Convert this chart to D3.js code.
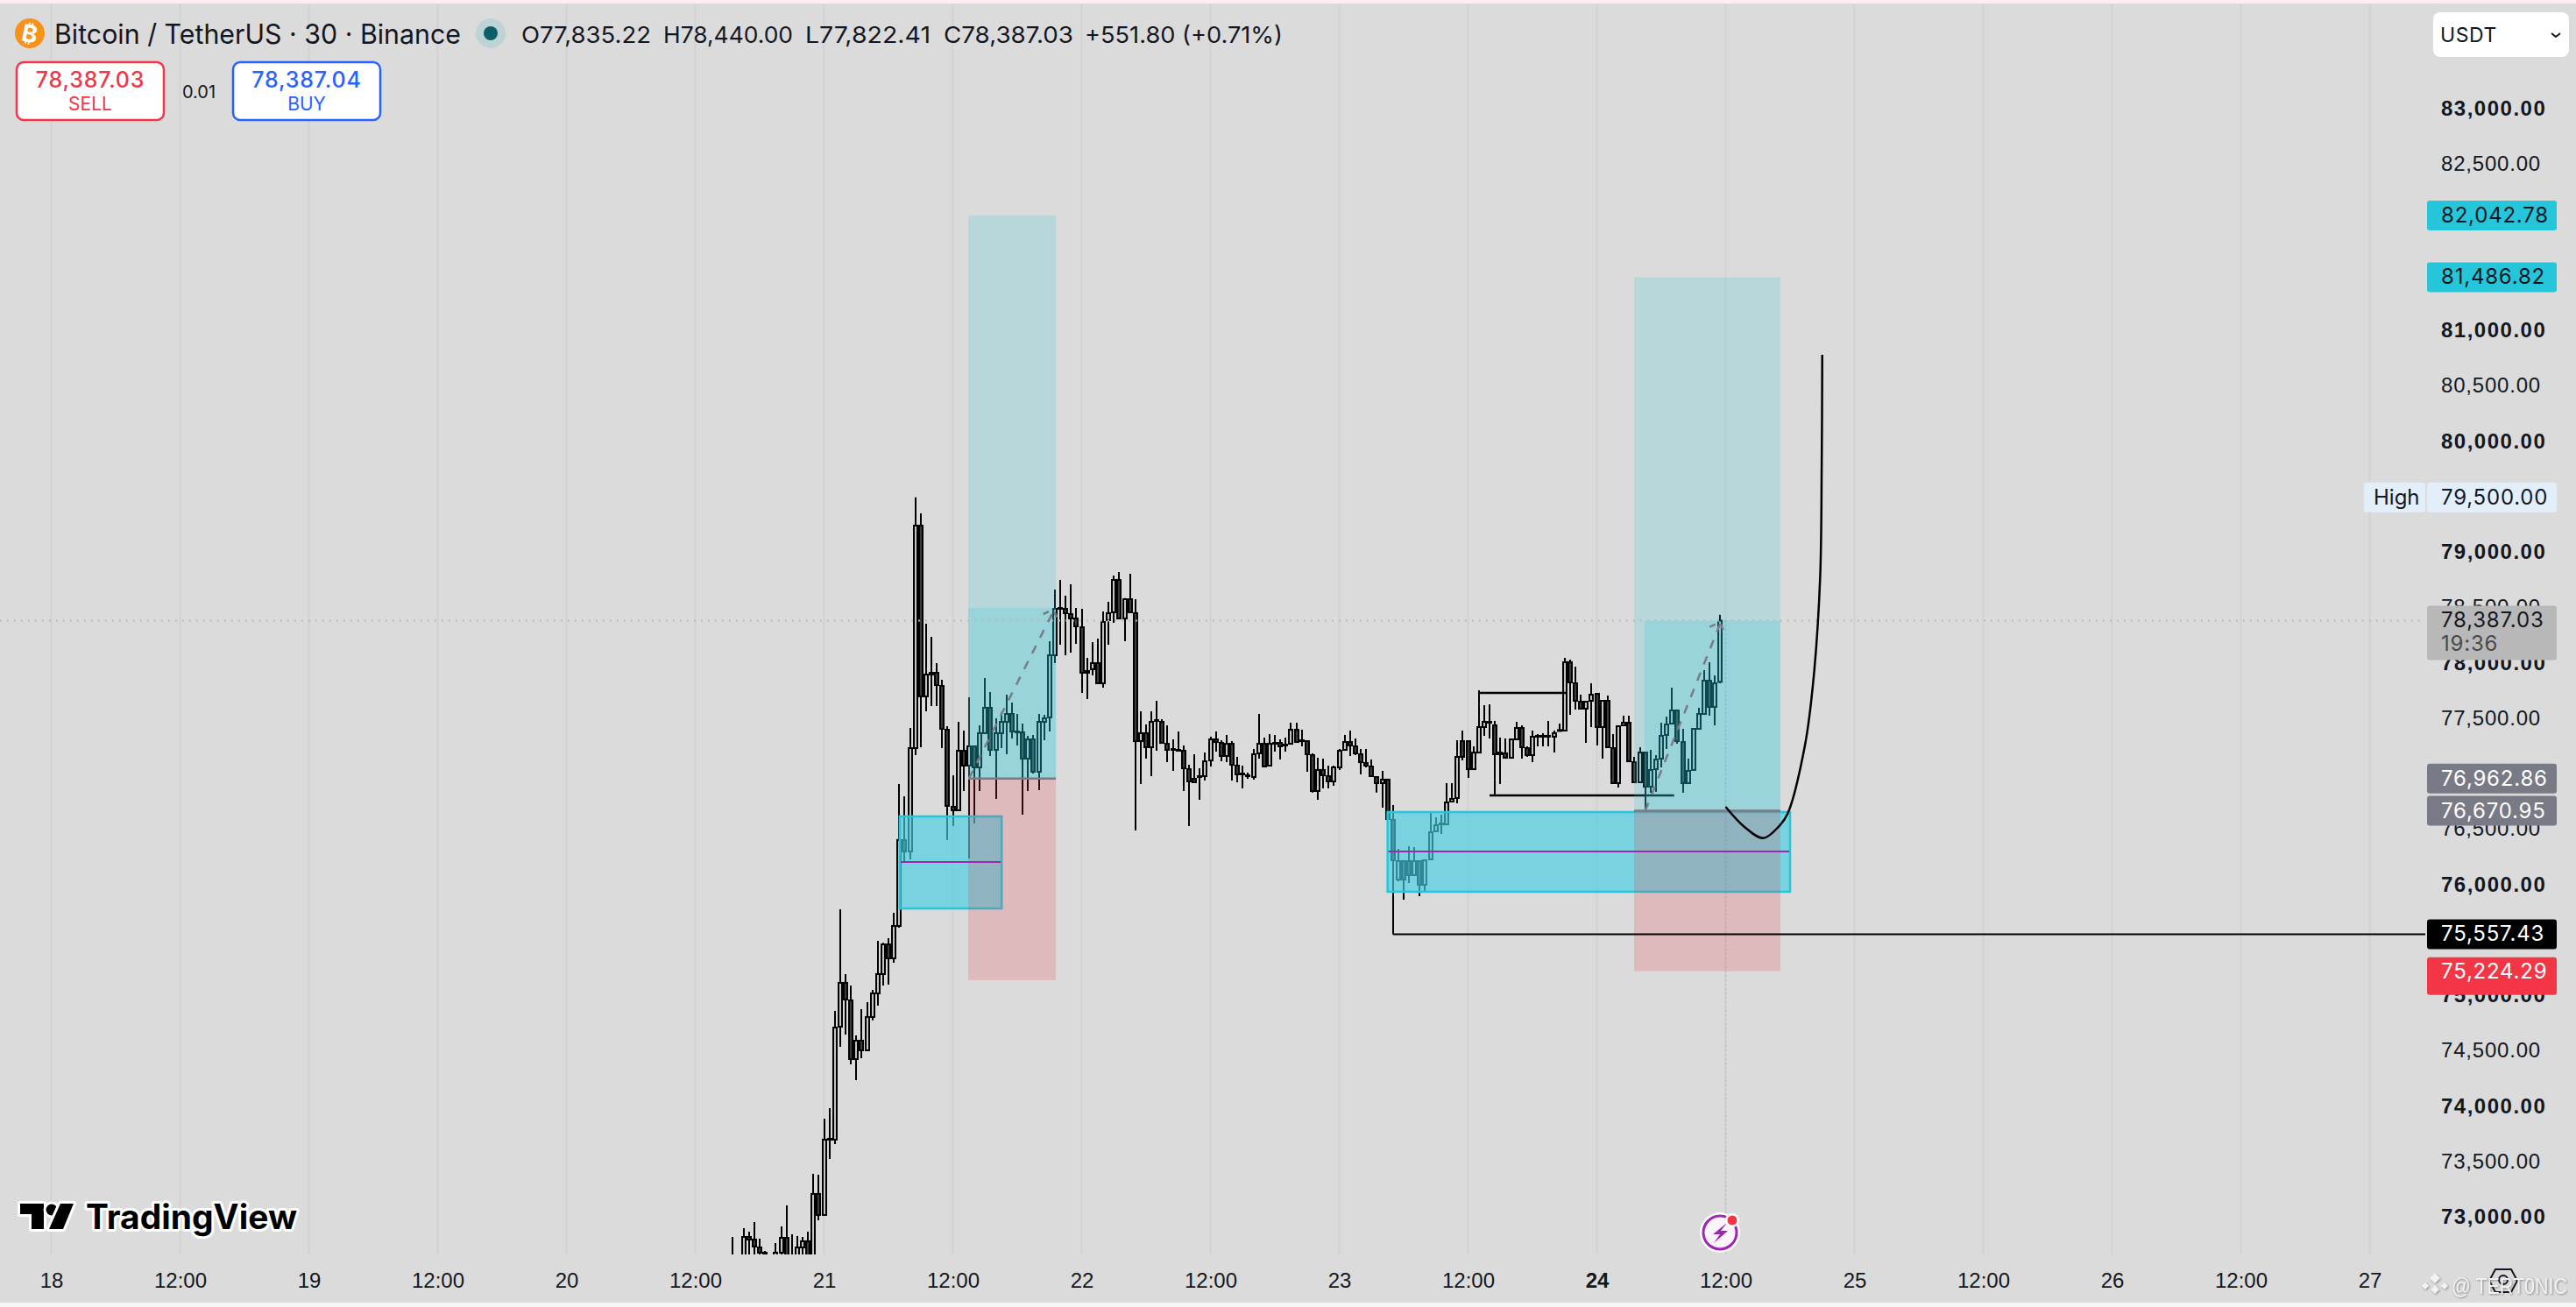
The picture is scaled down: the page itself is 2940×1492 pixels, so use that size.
<!DOCTYPE html>
<html>
<head>
<meta charset="utf-8">
<script src="https://cdn.jsdelivr.net/npm/d3@7"></script>
<style>
  html, body { margin: 0; padding: 0; background: #dbdbdb; }
  svg { display: block; font-family: Inter, "Noto Sans", sans-serif; }
  .axis .domain { display: none; }
  .price-axis text { font-size: 24px; fill: #131722; letter-spacing: 0.8px; }
  .price-axis text.major { font-weight: 800; letter-spacing: 1.5px; }
  .time-axis text { font-size: 24px; fill: #131722; }
  .time-axis text.day-now { font-weight: 700; }
</style>
</head>
<body>
<div id="chart"></div>
<script>
const WIDTH = 2940;
const HEIGHT = 1492;
const PANE_RIGHT = 2768;
const PANE_BOTTOM = 1432;

// hours counted from day 18 00:00, one candle every half hour
const FIRST_CANDLE_HOUR = 63.5;

const opens = [
  72600,72600,72620,72826,72802,72731,72684,72640,72620,72684,
  72818,72620,72640,72731,72787,72640,73214,73024,73704,73704,
  74723,75119,74961,74431,74597,74510,74811,75024,75198,75466,
  75340,75632,76408,76304,77237,79245,77704,77901,77917,77798,
  77403,76708,76676,77213,77079,77253,77063,77372,77601,77221,
  77372,77474,77545,77387,77379,77142,77316,77024,77474,77514,
  78075,78494,78494,78447,78407,78328,77917,77949,78004,77822,
  78392,78463,78755,78407,78581,78455,77300,77372,77245,77490,
  77474,77276,77229,77221,77213,77047,76960,76984,76984,77126,
  77316,77284,77166,77276,77079,77000,76992,76976,77190,77276,
  77079,77276,77284,77269,77276,77403,77308,77300,77174,76850,
  77040,76984,76937,77063,77221,77292,77253,77182,77103,77071,
  76976,76921,76953,76589,76051,76217,76217,76091,76217,76004,
  76233,76486,76549,76549,76755,76787,77300,77300,77047,77197,
  77427,77474,77443,77182,77190,77150,77316,77419,77237,77174,
  77340,77348,77348,77340,77395,77395,78013,77822,77656,77593,
  77664,77727,77427,77664,77237,76921,77443,77466,77110,76929,
  77197,76889,77047,77142,77356,77458,77577,77292,76921,77040,
  77411,77545,77846,77609,77835.22
];
const highs = [
  72826,72650,72905,72874,72961,72810,72700,72650,72771,72921,
  73111,72850,72834,72826,72874,73396,73388,73894,73989,74866,
  75783,75198,75095,74644,74882,74945,75056,75498,75480,75522,
  75751,76914,76803,77419,79500,79356,78360,78241,78003,77854,
  77435,76992,77474,77395,77696,77253,77443,77870,77743,77506,
  77561,77719,77648,77545,77458,77348,77356,77545,77537,78202,
  78668,78755,78613,78716,78502,78494,78051,78194,78226,78471,
  78557,78795,78826,78590,78810,78581,77569,77451,77569,77664,
  77498,77443,77316,77387,77261,77087,77182,77055,77197,77340,
  77387,77308,77356,77300,77158,77079,77015,77229,77545,77332,
  77364,77356,77316,77332,77466,77466,77403,77308,77190,77150,
  77142,77079,77079,77229,77356,77395,77324,77229,77229,77134,
  76976,77032,76953,76724,76328,76217,76352,76344,76217,76225,
  76652,76613,76637,76921,76921,77308,77395,77300,77253,77759,
  77624,77632,77482,77332,77324,77324,77474,77443,77253,77395,
  77364,77372,77482,77395,77458,78051,78036,77972,77719,77656,
  77822,77735,77664,77711,77364,77443,77530,77530,77158,77245,
  77197,77221,77174,77466,77521,77782,77577,77411,77142,77411,
  77601,77941,78012,77893,78440
];
const lows = [
  72500,72500,72550,72600,72600,72668,72640,72550,72580,72620,
  72580,72580,72600,72668,72600,72600,72977,73020,73530,73665,
  74542,74652,74383,74241,74439,74510,74780,74914,75095,75103,
  75300,75617,76202,76233,77174,77245,77569,77617,77617,77237,
  76408,76534,76676,76850,76241,76558,76850,77372,77166,76779,
  77237,77182,77324,77261,76637,76850,77008,76858,77308,77387,
  78003,78170,78075,78099,78178,77735,77680,77893,77822,77782,
  78170,78368,78407,78202,78463,76494,76914,77142,76984,77213,
  77284,77110,77032,77213,76850,76534,76929,76771,76945,77071,
  77205,77118,77110,76945,76929,76874,76960,76953,77142,77063,
  77071,77205,77134,77205,77276,77292,77253,77024,76835,76771,
  76874,76874,76897,77040,77221,77166,77174,77000,77063,76976,
  76835,76700,76597,75557,76035,75870,76020,76091,75901,75949,
  76233,76478,76463,76549,76755,76739,77126,76969,77047,77197,
  77348,77324,76803,76914,77150,77150,77316,77142,77158,77110,
  77253,77253,77253,77197,77395,77395,77538,77585,77585,77284,
  77427,77261,77142,77245,76914,76882,77443,77118,76929,76929,
  76670.95,76834,76842,77063,77229,77458,77276,76834,76921,77040,
  77411,77545,77530,77443,77822.41
];
const closes = [
  72600,72580,72826,72802,72739,72684,72668,72620,72684,72818,
  72620,72640,72731,72787,72640,73214,73024,73704,73712,74715,
  75119,74969,74431,74597,74510,74811,75024,75198,75466,75340,
  75632,76408,76304,77237,79245,77704,77901,77917,77806,77411,
  76716,76676,77213,77079,77253,77063,77372,77601,77221,77372,
  77474,77545,77387,77379,77142,77316,77024,77474,77506,78075,
  78494,78502,78455,78407,78336,77917,77933,78004,77822,78376,
  78455,78755,78407,78581,78463,77300,77372,77245,77474,77482,
  77284,77221,77221,77217,77055,76937,76929,76984,77118,77316,
  77292,77166,77276,77087,77000,77008,76992,77182,77276,77071,
  77276,77284,77253,77261,77403,77292,77300,77182,76850,77040,
  76992,76937,77063,77213,77292,77261,77190,77110,77079,76984,
  76921,76953,76597,76225,76217,76051,76091,76217,76004,76225,
  76478,76541,76557,76747,76779,77158,77158,77047,77197,77427,
  77474,77466,77182,77197,77150,77316,77419,77245,77174,77340,
  77348,77348,77348,77372,77400,78013,77830,77664,77593,77656,
  77719,77427,77664,77245,76921,77435,77466,77118,76929,77197,
  76889,77040,77134,77348,77450,77577,77300,76921,77032,77411,
  77545,77846,77609,77822,78387.03
];

// axis labels
const priceTicks = [83000,82500,81000,80500,80000,79000,78500,78000,77500,76500,76000,75000,74500,74000,73500,73000];
const timeTickHours = [0,12,24,36,48,60,72,84,96,108,120,132,144,156,168,180,192,204,216];
const timeTickLabels = ["18","12:00","19","12:00","20","12:00","21","12:00","22","12:00","23","12:00","24","12:00","25","12:00","26","12:00","27"];

// price tags on the right scale
const tagPrices = [82042.78,81486.82,76962.86,76670.95,75557.43,75224.29];
const tagFills = ["#26c6da","#26c6da","#787b86","#787b86","#000000","#f23645"];
const tagTexts = ["#131722","#131722","#ffffff","#ffffff","#ffffff","#ffffff"];
const LAST_PRICE = 78387.03;
const SESSION_HIGH = 79500;

// long position drawings
const posStart = [85.43, 147.47];
const posEnd = [93.6, 161.1];
const posTarget = [82042.78, 81486.82];
const posEntry = [76962.86, 76670.95];
const posStop = [75143, 75224.29];
const posReached = [78502, 78387.03];
const posInnerStart = [85.43, 148.45];
const tradeFromHour = [85.5, 148.5];
const tradeToHour = [93.4, 155.5];

// zone boxes with the purple middle line
const boxStart = [79.05, 124.5];
const boxEnd = [88.55, 162.0];
const boxTop = [76621, 76660];
const boxBottom = [75790, 75941];
const boxMid = [76209, 76304];

// black drawn lines
const swingHighHours = [133.1, 141.2];
const SWING_HIGH = 77735;
const swingLowHours = [134.0, 151.2];
const SWING_LOW = 76810;
const liquidityStartHour = 125.0;
const LIQUIDITY = 75557.43;

// forecast curve drawn on the chart
const curveHours = [156.0, 157.7, 159.5, 160.9, 161.75, 163.4, 164.2, 164.8, 164.95, 165.0];
const curvePrices = [76707, 76530, 76425, 76525, 76640, 77269, 77877, 78771, 79799, 80787];

const x = d3.scaleLinear().domain([0, 216]).range([58.5, 2704.5]);
const y = d3.scaleLinear().domain([73000, 83000]).range([1390, 125]);
const fmt = d3.format(",.2f");

const svg = d3.select("#chart").append("svg").attr("width", WIDTH).attr("height", HEIGHT);

svg.append("rect").attr("width", WIDTH).attr("height", HEIGHT).attr("fill", "#dbdbdb");
svg.append("rect").attr("width", WIDTH).attr("height", 4).attr("fill", "#fdeef1");
svg.append("rect").attr("y", HEIGHT - 5).attr("width", WIDTH).attr("height", 5).attr("fill", "#f5f5f5");

svg.append("defs").append("clipPath").attr("id", "pane")
  .append("rect").attr("x", 0).attr("y", 5).attr("width", PANE_RIGHT).attr("height", PANE_BOTTOM - 5);

const pane = svg.append("g").attr("clip-path", "url(#pane)");

// grid
pane.append("g").selectAll("line").data(timeTickHours).join("line")
  .attr("x1", d => x(d)).attr("x2", d => x(d))
  .attr("y1", 5).attr("y2", PANE_BOTTOM)
  .attr("stroke", "#d2d2d2").attr("stroke-width", 2);

// candles
const candleData = d3.range(opens.length).map(i => ({
  hour: FIRST_CANDLE_HOUR + i * 0.5, o: opens[i], h: highs[i], l: lows[i], c: closes[i]
}));

const candles = pane.append("g").selectAll("g").data(candleData).join("g")
  .attr("transform", d => `translate(${Math.round(x(d.hour))},0)`);

candles.append("line")
  .attr("y1", d => y(d.h)).attr("y2", d => y(d.l))
  .attr("stroke", "#000").attr("stroke-width", 2);

candles.append("rect")
  .attr("x", -2).attr("width", 4)
  .attr("y", d => y(Math.max(d.o, d.c)))
  .attr("height", d => Math.max(1, Math.abs(y(d.o) - y(d.c))))
  .attr("fill", d => d.c >= d.o ? "#c4c4c4" : "#3c3c3c")
  .attr("stroke", "#000").attr("stroke-width", 2);

// swing lines sit under the position zones
[[swingHighHours, SWING_HIGH], [swingLowHours, SWING_LOW]].forEach(([hours, price]) => {
  pane.append("line")
    .attr("x1", x(hours[0])).attr("x2", x(hours[1]))
    .attr("y1", y(price)).attr("y2", y(price))
    .attr("stroke", "#000").attr("stroke-width", 2.5);
});

// zone boxes
boxStart.forEach((s, i) => {
  pane.append("rect")
    .attr("x", x(s)).attr("width", x(boxEnd[i]) - x(s))
    .attr("y", y(boxTop[i])).attr("height", y(boxBottom[i]) - y(boxTop[i]))
    .attr("fill", "rgba(68,205,225,0.66)")
    .attr("stroke", "#26c6da").attr("stroke-width", 2.5);
});

// long positions
posStart.forEach((s, i) => {
  const x0 = x(s), x1 = x(posEnd[i]);
  pane.append("rect").attr("x", x0).attr("width", x1 - x0)
    .attr("y", y(posTarget[i])).attr("height", y(posEntry[i]) - y(posTarget[i]))
    .attr("fill", "rgba(38,198,218,0.2)");
  pane.append("rect").attr("x", x0).attr("width", x1 - x0)
    .attr("y", y(posEntry[i])).attr("height", y(posStop[i]) - y(posEntry[i]))
    .attr("fill", "rgba(242,54,69,0.2)");
  pane.append("rect").attr("x", x(posInnerStart[i])).attr("width", x1 - x(posInnerStart[i]))
    .attr("y", y(posReached[i])).attr("height", y(posEntry[i]) - y(posReached[i]))
    .attr("fill", "rgba(38,198,218,0.2)");
  pane.append("line").attr("x1", x0).attr("x2", x1)
    .attr("y1", y(posEntry[i])).attr("y2", y(posEntry[i]))
    .attr("stroke", "#787b86").attr("stroke-width", 2.5);
});

// dashed trade path with its arrow head
tradeFromHour.forEach((s, i) => {
  const px = x(tradeToHour[i]), py = y(posReached[i]) + 3;
  pane.append("line")
    .attr("x1", x(s)).attr("y1", y(posEntry[i]))
    .attr("x2", px).attr("y2", py)
    .attr("stroke", "#787b86").attr("stroke-width", 2.5).attr("stroke-dasharray", "10 10");
  pane.append("path")
    .attr("d", `M${px - 12},${py + 4}L${px - 3},${py}L${px},${py}L${px + 6},${py + 13}`)
    .attr("fill", "none").attr("stroke", "#787b86").attr("stroke-width", 2.5)
    .attr("stroke-dasharray", "7 7");
});

// purple middle lines
boxStart.forEach((s, i) => {
  pane.append("line")
    .attr("x1", x(s) + 1).attr("x2", x(boxEnd[i]) - 1)
    .attr("y1", y(boxMid[i])).attr("y2", y(boxMid[i]))
    .attr("stroke", "#9c27b0").attr("stroke-width", 2);
});

// last price dotted crosshair
pane.append("line").attr("x1", 0).attr("x2", PANE_RIGHT)
  .attr("y1", y(LAST_PRICE)).attr("y2", y(LAST_PRICE))
  .attr("stroke", "#b9b9b9").attr("stroke-width", 2).attr("stroke-dasharray", "2 6");
pane.append("line").attr("x1", x(156)).attr("x2", x(156))
  .attr("y1", y(LAST_PRICE)).attr("y2", PANE_BOTTOM)
  .attr("stroke", "rgba(120,123,134,0.45)").attr("stroke-width", 1.5).attr("stroke-dasharray", "1 4");

// liquidity level
pane.append("line").attr("x1", x(liquidityStartHour)).attr("x2", PANE_RIGHT)
  .attr("y1", y(LIQUIDITY)).attr("y2", y(LIQUIDITY))
  .attr("stroke", "#000").attr("stroke-width", 2);

// forecast curve
const curveLine = d3.line().x(d => x(d[0])).y(d => y(d[1])).curve(d3.curveCatmullRom.alpha(0.5));
pane.append("path")
  .attr("d", curveLine(d3.zip(curveHours, curvePrices)))
  .attr("fill", "none").attr("stroke", "#000").attr("stroke-width", 2.5);

// price axis
const priceAxis = svg.append("g").attr("class", "axis price-axis")
  .attr("transform", "translate(2786,0)")
  .call(d3.axisRight(y).tickValues(priceTicks).tickSize(0).tickPadding(0).tickFormat(fmt));
priceAxis.selectAll("text").attr("dy", "0.28em").classed("major", d => d % 1000 === 0);

// time axis
const timeAxis = svg.append("g").attr("class", "axis time-axis")
  .attr("transform", `translate(0,${PANE_BOTTOM})`)
  .call(d3.axisBottom(x).tickValues(timeTickHours).tickSize(0).tickPadding(21)
    .tickFormat((d, i) => timeTickLabels[i]));
timeAxis.selectAll("text").classed("day-now", d => d === 144);

// price tags
const tags = svg.append("g").selectAll("g").data(tagPrices).join("g")
  .attr("transform", d => `translate(2770,${y(d)})`);
tags.append("rect")
  .attr("y", (d, i) => i === 5 ? -16 : -17)
  .attr("width", 148)
  .attr("height", (d, i) => i === 5 ? 43 : 34)
  .attr("rx", 3)
  .attr("fill", (d, i) => tagFills[i]);
tags.append("text").attr("x", 16).attr("dy", "0.33em")
  .attr("font-size", 24).attr("letter-spacing", 0.8)
  .attr("fill", (d, i) => tagTexts[i])
  .text(d => fmt(d));

// session high tag
const highTag = svg.append("g").attr("transform", `translate(2698,${y(SESSION_HIGH)})`);
highTag.append("rect").attr("y", -17).attr("width", 70).attr("height", 34).attr("rx", 3).attr("fill", "#e3eefb");
highTag.append("rect").attr("x", 72).attr("y", -17).attr("width", 148).attr("height", 34).attr("rx", 3).attr("fill", "#e3eefb");
highTag.append("text").attr("x", 11).attr("dy", "0.33em").attr("font-size", 24).attr("fill", "#131722").text("High");
highTag.append("text").attr("x", 88).attr("dy", "0.33em").attr("font-size", 24).attr("letter-spacing", 0.8).attr("fill", "#131722").text(fmt(SESSION_HIGH));

// last price tag
const lastTag = svg.append("g").attr("transform", `translate(2770,${y(LAST_PRICE)})`);
lastTag.append("rect").attr("y", -17).attr("width", 148).attr("height", 62).attr("rx", 3).attr("fill", "#b8b8b8");
lastTag.append("text").attr("x", 16).attr("dy", "0.33em").attr("font-size", 24).attr("letter-spacing", 0.8).attr("fill", "#131722").text(fmt(LAST_PRICE));
lastTag.append("text").attr("x", 16).attr("y", 27).attr("dy", "0.33em").attr("font-size", 24).attr("letter-spacing", 0.8).attr("fill", "#4a4a4a").text("19:36");

// currency selector
svg.append("rect").attr("x", 2777).attr("y", 14).attr("width", 155).attr("height", 51).attr("rx", 8).attr("fill", "#fff");
svg.append("text").attr("x", 2785).attr("y", 48).attr("font-size", 23).attr("letter-spacing", 0.6).attr("fill", "#131722").text("USDT");
svg.append("path").attr("d", "M2912,38l5,4l5,-4").attr("fill", "none").attr("stroke", "#131722").attr("stroke-width", 2);

// legend
svg.append("circle").attr("cx", 34).attr("cy", 38).attr("r", 17).attr("fill", "#f7931a");
svg.append("text").attr("x", 34).attr("y", 48).attr("text-anchor", "middle")
  .attr("font-size", 27).attr("font-weight", 700).attr("fill", "#fff")
  .attr("transform", "rotate(12 34 38)").text("₿");
svg.append("text").attr("x", 62).attr("y", 50).attr("font-size", 31).attr("fill", "#131722")
  .attr("textLength", 464).attr("lengthAdjust", "spacingAndGlyphs")
  .text("Bitcoin / TetherUS · 30 · Binance");
svg.append("circle").attr("cx", 560).attr("cy", 38).attr("r", 17).attr("fill", "#bdd3d6");
svg.append("circle").attr("cx", 560).attr("cy", 38).attr("r", 8).attr("fill", "#0c5f66");

const legendLabels = ["O77,835.22", "H78,440.00", "L77,822.41", "C78,387.03", "+551.80 (+0.71%)"];
const legendX = [595, 757, 919, 1077, 1238];
const legendW = [148, 148, 143, 148, 226];
svg.append("g").selectAll("text").data(legendLabels).join("text")
  .attr("x", (d, i) => legendX[i]).attr("y", 49)
  .attr("textLength", (d, i) => legendW[i]).attr("lengthAdjust", "spacingAndGlyphs")
  .attr("font-size", 26).attr("fill", "#131722").text(d => d);

// trade buttons
const buttons = [
  { left: 19, color: "#f23645", price: "78,387.03", label: "SELL" },
  { left: 266, color: "#2962ff", price: "78,387.04", label: "BUY" }
];
buttons.forEach(b => {
  svg.append("rect").attr("x", b.left).attr("y", 71).attr("width", 168).attr("height", 66).attr("rx", 8)
    .attr("fill", "#fff").attr("stroke", b.color).attr("stroke-width", 2.5);
  svg.append("text").attr("x", b.left + 84).attr("y", 100).attr("text-anchor", "middle")
    .attr("font-size", 25).attr("font-weight", 500).attr("letter-spacing", 0.8).attr("fill", b.color).text(b.price);
  svg.append("text").attr("x", b.left + 84).attr("y", 126).attr("text-anchor", "middle")
    .attr("font-size", 21).attr("fill", b.color).text(b.label);
});
svg.append("text").attr("x", 227).attr("y", 112).attr("text-anchor", "middle")
  .attr("font-size", 20).attr("fill", "#131722").text("0.01");

// TradingView mark
const logo = svg.append("g").attr("stroke", "#fff").attr("stroke-width", 6).attr("paint-order", "stroke")
  .attr("stroke-linejoin", "round").attr("fill", "#000");
logo.append("path").attr("d", "M23,1374H50V1403H36V1386H23Z");
logo.append("circle").attr("cx", 59).attr("cy", 1381).attr("r", 6.5);
logo.append("path").attr("d", "M69,1374H84L72,1403H56Z");
logo.append("text").attr("x", 98).attr("y", 1403).attr("font-size", 39).attr("font-weight", 700)
  .attr("textLength", 241).attr("lengthAdjust", "spacingAndGlyphs").text("TradingView");

// alert badge
svg.append("circle").attr("cx", 1963).attr("cy", 1407).attr("r", 23).attr("fill", "#fff");
svg.append("circle").attr("cx", 1963).attr("cy", 1407).attr("r", 19).attr("fill", "#fbf4fc")
  .attr("stroke", "#9c27b0").attr("stroke-width", 3);
svg.append("path").attr("d", "M1971,1396L1955,1409H1963L1956,1419L1972,1405H1964Z").attr("fill", "#9c27b0");
svg.append("circle").attr("cx", 1977).attr("cy", 1393).attr("r", 8).attr("fill", "#fff");
svg.append("circle").attr("cx", 1977).attr("cy", 1393).attr("r", 5.5).attr("fill", "#f23645");

// scale settings icon and watermark
svg.append("path").attr("d", "M2848,1449H2866L2873,1462L2866,1475H2848L2841,1462Z")
  .attr("fill", "none").attr("stroke", "#131722").attr("stroke-width", 2);
svg.append("circle").attr("cx", 2857).attr("cy", 1461).attr("r", 5)
  .attr("fill", "none").attr("stroke", "#131722").attr("stroke-width", 2);
const wm = svg.append("g").attr("fill", "#f2f2f2").attr("style", "filter: drop-shadow(1px 1px 1px rgba(0,0,0,0.35))");
wm.append("path").attr("d", "M2779,1453l6,6l-6,6l-6,-6ZM2768,1464l4,4l-4,4l-4,-4ZM2790,1464l4,4l-4,4l-4,-4ZM2779,1467l5,5l-5,5l-5,-5Z");
wm.append("text").attr("transform", "translate(2798,1477) scale(0.86,1)")
  .attr("font-family", "Liberation Sans").attr("font-size", 25).text("@ TERT0NIC");
</script>
</body>
</html>
